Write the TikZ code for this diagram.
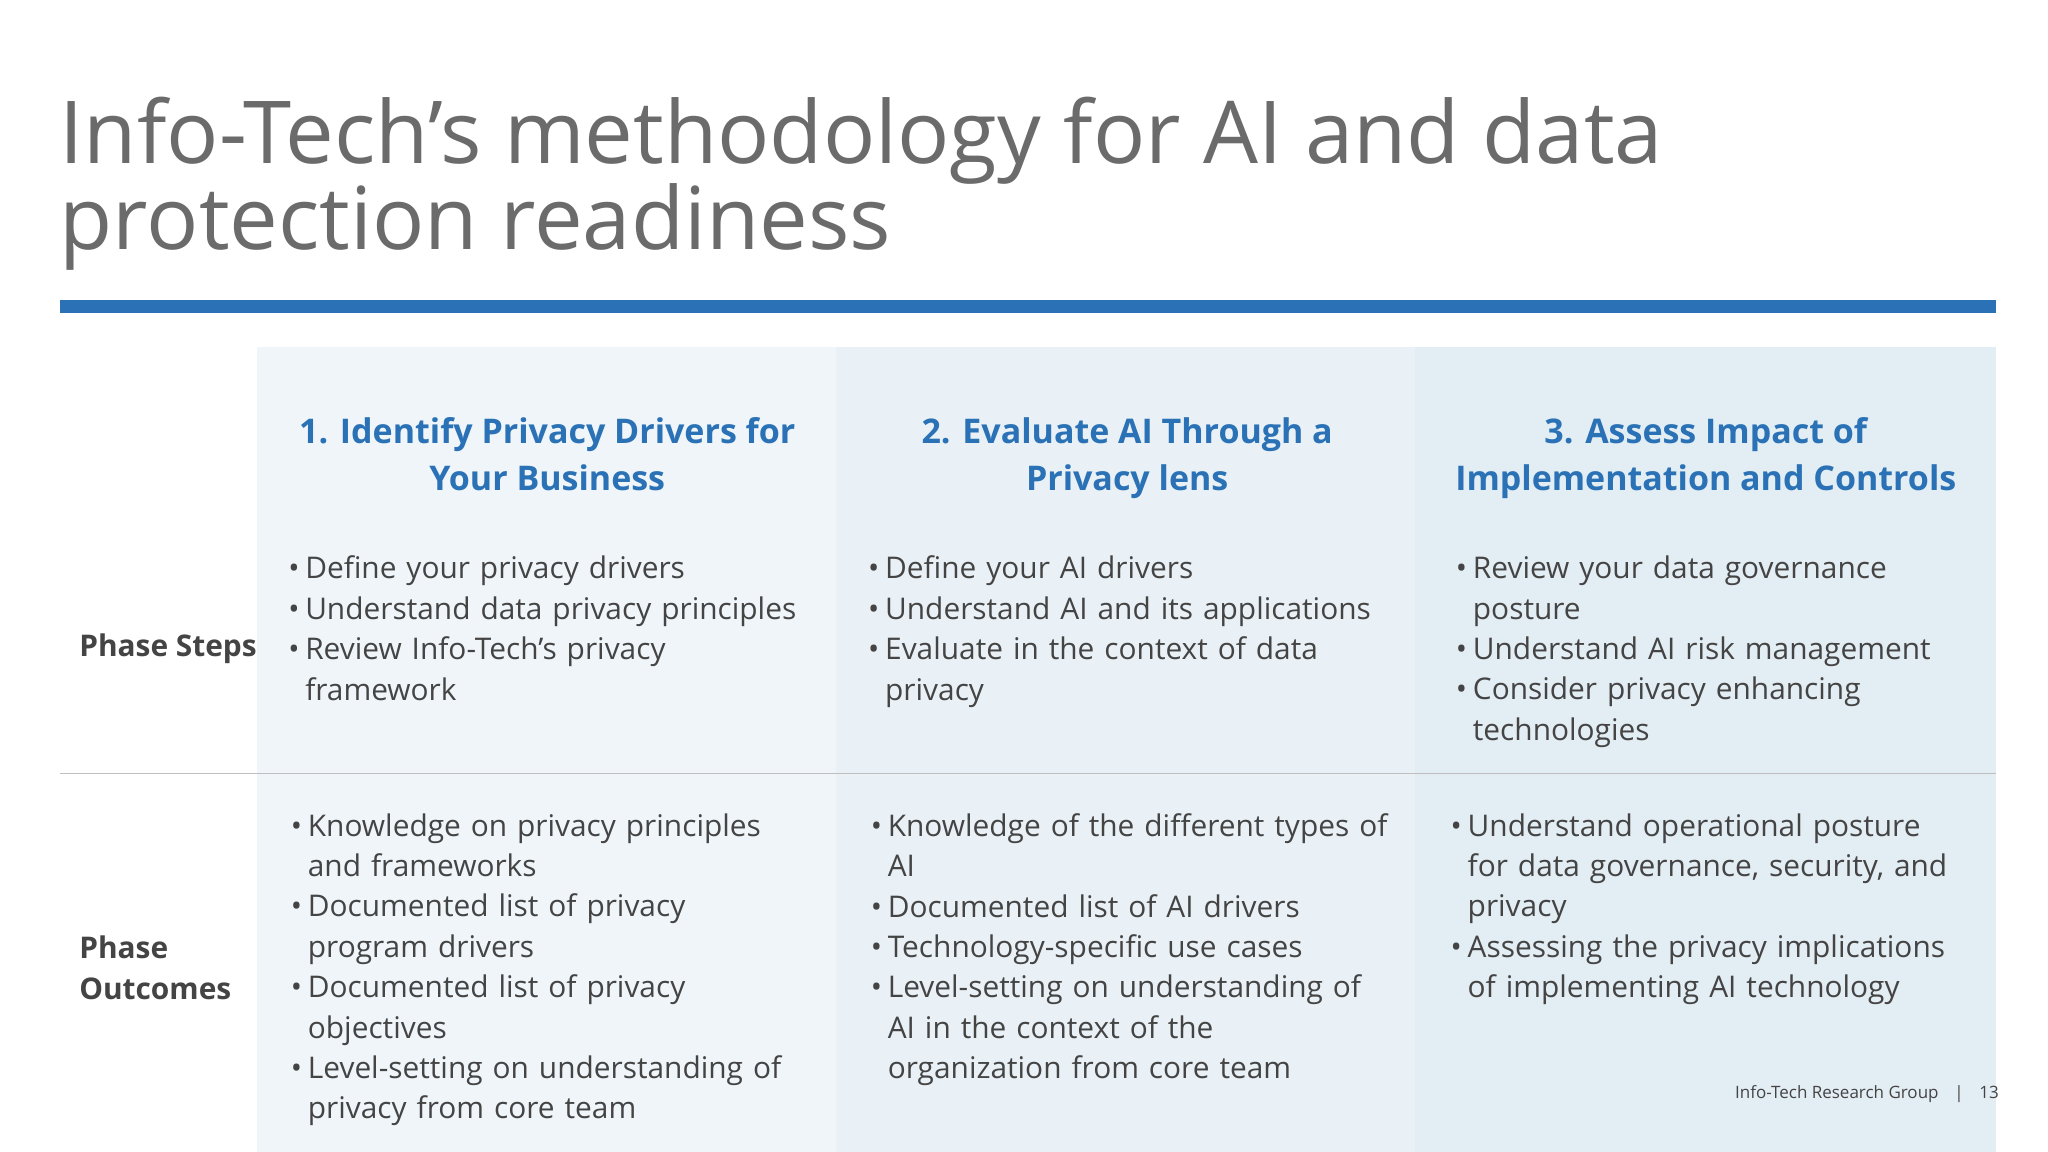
\documentclass[tikz,border=0pt]{standalone}
\usepackage{fontspec}
\setmainfont{Open Sans}
\definecolor{titlegray}{HTML}{6B6B6B}
\definecolor{bar}{HTML}{2A72B5}
\definecolor{hblue}{HTML}{2A72B5}
\definecolor{bodytxt}{HTML}{444444}
\definecolor{cA}{HTML}{EFF5F9}
\definecolor{cB}{HTML}{E9F1F6}
\definecolor{cC}{HTML}{E3EDF4}
\newcommand{\bl}[1]{\hangindent=0.13cm\hangafter=1\noindent\makebox[0.13cm][l]{•}#1\par}
\tikzset{
  hdr/.style={font=\fontsize{7.4pt}{10.2pt}\selectfont\bfseries, text=hblue, align=center, inner sep=0pt, anchor=north},
  lst/.style={font=\fontsize{6.5pt}{8.8pt}\selectfont, text=bodytxt, text width=4.4cm, align=left, inner sep=0pt, anchor=north west},
  lbl/.style={font=\fontsize{6.5pt}{8.8pt}\selectfont\bfseries, text=bodytxt, align=left, inner sep=0pt, anchor=west},
  ttl/.style={anchor=base west, inner sep=0pt, text=titlegray, font=\fontsize{18.9pt}{20pt}\selectfont}
}
\begin{document}
\begin{tikzpicture}[x=0.01cm,y=-0.01cm]
\useasboundingbox (0,0) rectangle (1568,882);
\fill[white] (0,0) rectangle (1568,882);
\node[ttl] (title1) at (45,125) {Info-Tech’s methodology for AI and data};
\node[ttl] (title2) at (45,191) {protection readiness};
\fill[bar] (46,230) rectangle (1528,240);
\fill[cA] (197,266) rectangle (640,882);
\fill[cB] (640,266) rectangle (1083,882);
\fill[cC] (1083,266) rectangle (1528,882);
\coordinate (dl) at (46,592); \coordinate (dr) at (1528,592);
\draw[gray!50, line width=0.3pt] (dl) -- (dr);
\node[hdr] (h1) at (419,319) {1. Identify Privacy Drivers for\\Your Business};
\node[hdr] (h2) at (863,319) {2. Evaluate AI Through a\\Privacy lens};
\node[hdr] (h3) at (1306,319) {3. Assess Impact of\\Implementation and Controls};
\node[lbl] (ps) at (60,497) {Phase Steps};
\node[lbl] (po) at (60,741) {Phase\\Outcomes};
\node[lst] (s1) at (220,425) {\bl{Define your privacy drivers}\bl{Understand data privacy principles}\bl{Review Info-Tech’s privacy\newline framework}};
\node[lst] (s2) at (664,425) {\bl{Define your AI drivers}\bl{Understand AI and its applications}\bl{Evaluate in the context of data\newline privacy}};
\node[lst] (s3) at (1114,425) {\bl{Review your data governance\newline posture}\bl{Understand AI risk management}\bl{Consider privacy enhancing\newline technologies}};
\node[lst] (o1) at (222,622) {\bl{Knowledge on privacy principles\newline and frameworks}\bl{Documented list of privacy\newline program drivers}\bl{Documented list of privacy\newline objectives}\bl{Level-setting on understanding of\newline privacy from core team}};
\node[lst] (o2) at (666,622) {\bl{Knowledge of the different types of\newline AI}\bl{Documented list of AI drivers}\bl{Technology-specific use cases}\bl{Level-setting on understanding of\newline AI in the context of the\newline organization from core team}};
\node[lst] (o3) at (1110,622) {\bl{Understand operational posture\newline for data governance, security, and\newline privacy}\bl{Assessing the privacy implications\newline of implementing AI technology}};
\node[anchor=east, inner sep=0pt, text=bodytxt, font=\fontsize{3.7pt}{4pt}\selectfont] (ft) at (1531,838) {Info-Tech Research Group\hspace{0.12cm}|\hspace{0.12cm}13};
\end{tikzpicture}
\end{document}
